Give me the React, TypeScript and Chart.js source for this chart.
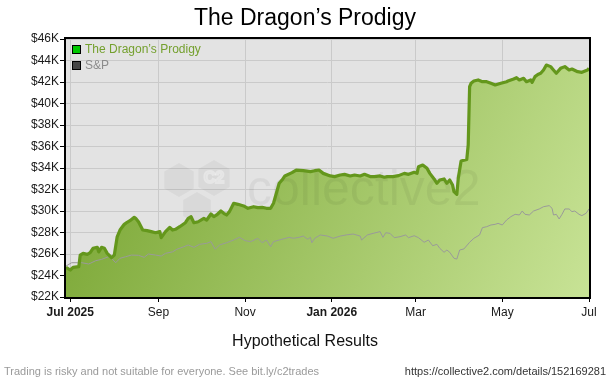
import { useEffect, useRef } from "react";
import { Chart, registerables } from "chart.js";

Chart.register(...registerables);

// Equity curve of the strategy (USD), sampled by date
const prodigyDates = [
  "2025-06-28", "2025-07-01", "2025-07-03", "2025-07-07", "2025-07-08", "2025-07-10", "2025-07-13", "2025-07-15",
  "2025-07-17", "2025-07-20", "2025-07-21", "2025-07-23", "2025-07-25", "2025-07-27", "2025-07-30", "2025-08-01",
  "2025-08-03", "2025-08-05", "2025-08-08", "2025-08-10", "2025-08-12", "2025-08-15", "2025-08-16", "2025-08-18",
  "2025-08-21", "2025-08-24", "2025-08-27", "2025-08-30", "2025-09-02", "2025-09-03", "2025-09-06", "2025-09-09",
  "2025-09-11", "2025-09-13", "2025-09-16", "2025-09-20", "2025-09-22", "2025-09-24", "2025-09-26", "2025-09-29",
  "2025-10-03", "2025-10-05", "2025-10-08", "2025-10-10", "2025-10-12", "2025-10-15", "2025-10-17", "2025-10-19",
  "2025-10-21", "2025-10-24", "2025-10-27", "2025-10-31", "2025-11-03", "2025-11-07", "2025-11-10", "2025-11-13",
  "2025-11-16", "2025-11-19", "2025-11-21", "2025-11-23", "2025-11-25", "2025-11-27", "2025-11-29", "2025-12-04",
  "2025-12-07", "2025-12-12", "2025-12-17", "2025-12-20", "2025-12-23", "2025-12-26", "2025-12-31", "2026-01-03",
  "2026-01-07", "2026-01-10", "2026-01-14", "2026-01-17", "2026-01-21", "2026-01-24", "2026-01-28", "2026-01-31",
  "2026-02-04", "2026-02-07", "2026-02-09", "2026-02-13", "2026-02-17", "2026-02-21", "2026-02-24", "2026-02-28",
  "2026-03-02", "2026-03-03", "2026-03-06", "2026-03-09", "2026-03-11", "2026-03-14", "2026-03-16", "2026-03-18",
  "2026-03-21", "2026-03-23", "2026-03-25", "2026-03-27", "2026-03-28", "2026-03-30", "2026-03-31", "2026-04-02",
  "2026-04-06", "2026-04-07", "2026-04-08", "2026-04-09", "2026-04-11", "2026-04-14", "2026-04-17", "2026-04-20",
  "2026-04-23", "2026-04-26", "2026-04-30", "2026-05-04", "2026-05-05", "2026-05-09", "2026-05-11", "2026-05-13",
  "2026-05-16", "2026-05-18", "2026-05-21", "2026-05-22", "2026-05-24", "2026-05-26", "2026-05-28", "2026-05-30",
  "2026-06-01", "2026-06-04", "2026-06-06", "2026-06-08", "2026-06-11", "2026-06-14", "2026-06-17", "2026-06-19",
  "2026-06-23", "2026-06-26", "2026-06-30", "2026-07-01",
];
const prodigyValues = [
  24760, 24510, 24760, 24820, 25900, 26060, 25970, 26120,
  26530, 26620, 26200, 26620, 26530, 26060, 25660, 25900,
  27600, 28230, 28760, 28950, 29100, 29410, 29320, 29000,
  28230, 28170, 28080, 27980, 28080, 27520, 28080, 28480,
  28230, 28300, 28540, 28910, 29320, 29470, 28910, 29000,
  29320, 29160, 29720, 29470, 29630, 30000, 29790, 29630,
  29940, 30720, 30620, 30470, 30250, 30400, 30310, 30340,
  30250, 30250, 30720, 31650, 32580, 32880, 33260, 33570,
  33810, 33750, 33660, 33750, 33810, 33500, 33260, 33200,
  33350, 33410, 33260, 33350, 33260, 33410, 33200, 33200,
  33260, 33140, 33200, 33200, 33290, 33500, 33410, 33600,
  33500, 34120, 34280, 33970, 33500, 32980, 32580, 32880,
  32980, 32580, 32880, 32420, 31800, 31550, 33040, 34650,
  34800, 36140, 41560, 41880, 42090, 42190, 42030, 42030,
  41880, 41720, 41880, 42030, 42090, 42280, 42400, 42190,
  42340, 42030, 42190, 41970, 42500, 42700, 42810, 43120,
  43580, 43430, 43120, 42810, 43270, 43430, 43120, 43210,
  42960, 42900, 43120, 43270,
];

// Benchmark (S&P) scaled to the same starting capital
const spDates = [
  "2025-06-28", "2025-07-02", "2025-07-06", "2025-07-09", "2025-07-14", "2025-07-19", "2025-07-23", "2025-07-28",
  "2025-07-30", "2025-08-02", "2025-08-05", "2025-08-09", "2025-08-13", "2025-08-18", "2025-08-22", "2025-08-25",
  "2025-08-30", "2025-09-03", "2025-09-06", "2025-09-11", "2025-09-14", "2025-09-19", "2025-09-22", "2025-09-26",
  "2025-09-30", "2025-10-05", "2025-10-08", "2025-10-11", "2025-10-14", "2025-10-19", "2025-10-24", "2025-10-28",
  "2025-11-01", "2025-11-05", "2025-11-10", "2025-11-13", "2025-11-16", "2025-11-19", "2025-11-21", "2025-11-25",
  "2025-11-27", "2025-12-02", "2025-12-05", "2025-12-09", "2025-12-12", "2025-12-15", "2025-12-17", "2025-12-18",
  "2025-12-20", "2025-12-24", "2025-12-29", "2026-01-02", "2026-01-07", "2026-01-11", "2026-01-16", "2026-01-21",
  "2026-01-22", "2026-01-26", "2026-01-30", "2026-02-04", "2026-02-06", "2026-02-08", "2026-02-11", "2026-02-14",
  "2026-02-18", "2026-02-22", "2026-02-24", "2026-02-28", "2026-03-03", "2026-03-07", "2026-03-10", "2026-03-13",
  "2026-03-16", "2026-03-18", "2026-03-21", "2026-03-23", "2026-03-25", "2026-03-28", "2026-03-30", "2026-04-01",
  "2026-04-04", "2026-04-08", "2026-04-11", "2026-04-15", "2026-04-17", "2026-04-20", "2026-04-23", "2026-04-26",
  "2026-04-28", "2026-05-01", "2026-05-04", "2026-05-07", "2026-05-10", "2026-05-13", "2026-05-15", "2026-05-17",
  "2026-05-20", "2026-05-23", "2026-05-27", "2026-05-30", "2026-06-03", "2026-06-05", "2026-06-06", "2026-06-08",
  "2026-06-10", "2026-06-12", "2026-06-14", "2026-06-17", "2026-06-19", "2026-06-21", "2026-06-24", "2026-06-26",
  "2026-06-29", "2026-07-01",
];
const spValues = [
  24880, 25190, 25190, 25190, 25070, 25380, 25500, 25750,
  25600, 25190, 25600, 25750, 25900, 25880, 25690, 26000,
  25900, 25810, 26060, 26200, 26440, 26680, 26840, 26620,
  26900, 26990, 27150, 26440, 26840, 27050, 27300, 27550,
  27240, 27150, 27460, 27050, 27300, 26680, 27150, 27300,
  27370, 27550, 27460, 27550, 27670, 27370, 27550, 27050,
  27460, 27770, 27670, 27460, 27670, 27770, 27860, 27670,
  27300, 27770, 27920, 28080, 27550, 27980, 27920, 27520,
  27610, 27770, 27520, 27700, 27520, 27090, 27300, 26770,
  26900, 26530, 26160, 26370, 26160, 25600, 25530, 26370,
  26470, 27090, 27460, 27770, 28450, 28540, 28700, 28760,
  28850, 28700, 29160, 29470, 29690, 29630, 30000, 29690,
  29630, 30000, 30190, 30400, 30500, 30250, 29630, 29690,
  29260, 29690, 30190, 30190, 29940, 30000, 29690, 29570,
  29790, 30190,
];

const xTickDates = ["2025-07-01", "2025-09-01", "2025-11-01", "2026-01-01", "2026-03-01", "2026-05-01", "2026-07-01"];
const xTickLabels = ["Jul 2025", "Sep", "Nov", "Jan 2026", "Mar", "May", "Jul"];
const yTickValues = [22000, 24000, 26000, 28000, 30000, 32000, 34000, 36000, 38000, 40000, 42000, 44000, 46000];

const seriesNames = ["The Dragon\u2019s Prodigy", "S&P"];
const titleText = "The Dragon\u2019s Prodigy";
const subtitleText = "Hypothetical Results";
const disclaimerText = "Trading is risky and not suitable for everyone. See bit.ly/c2trades";
const linkText = "https://collective2.com/details/152169281";

const FONT = "'Liberation Sans', Arial, Helvetica, sans-serif";
const DAY_MS = 86400000;
const EPOCH = Date.parse("2025-07-01T00:00:00Z");
const toDay = (d: string) => (Date.parse(d + "T00:00:00Z") - EPOCH) / DAY_MS;

function hexagon(ctx: CanvasRenderingContext2D, cx: number, cy: number, r: number) {
  ctx.beginPath();
  for (let k = 0; k < 6; k++) {
    const a = (Math.PI / 180) * (60 * k - 90);
    const px = cx + r * Math.cos(a);
    const py = cy + r * Math.sin(a);
    if (k === 0) ctx.moveTo(px, py);
    else ctx.lineTo(px, py);
  }
  ctx.closePath();
}

// Plot background, watermark, frame, legend and captions
const decorations = {
  id: "decorations",
  beforeDraw(chart: Chart) {
    const { ctx, chartArea: a } = chart;
    ctx.save();
    ctx.fillStyle = "#ffffff";
    ctx.fillRect(0, 0, chart.width, chart.height);
    ctx.fillStyle = "#e3e3e3";
    ctx.fillRect(a.left, a.top, a.right - a.left, a.bottom - a.top);
    ctx.restore();
  },
  beforeDatasetsDraw(chart: Chart) {
    const { ctx } = chart;
    ctx.save();
    ctx.fillStyle = "rgba(0,0,0,0.045)";
    hexagon(ctx, 179, 180, 17);
    ctx.fill();
    hexagon(ctx, 214, 178, 18);
    ctx.fill();
    hexagon(ctx, 197, 208, 16);
    ctx.fill();
    ctx.strokeStyle = "rgba(255,255,255,0.35)";
    ctx.lineWidth = 2;
    ctx.font = `bold 16px ${FONT}`;
    ctx.textAlign = "center";
    ctx.textBaseline = "middle";
    ctx.strokeText("C2", 214, 179);
    ctx.fillStyle = "rgba(0,0,0,0.05)";
    ctx.font = `50px ${FONT}`;
    ctx.textAlign = "left";
    ctx.textBaseline = "alphabetic";
    ctx.fillText("collective2", 247, 205);
    ctx.restore();
  },
  afterDraw(chart: Chart) {
    const { ctx, chartArea: a } = chart;
    ctx.save();
    // frame
    ctx.strokeStyle = "#000";
    ctx.lineWidth = 2;
    ctx.strokeRect(a.left - 1, a.top - 1, a.right - a.left + 2, a.bottom - a.top + 2);

    // legend
    const colors = ["#00c800", "#444444"];
    const textColors = ["#74a02e", "#8c8c8c"];
    ctx.font = `12px ${FONT}`;
    ctx.textBaseline = "middle";
    ctx.textAlign = "left";
    seriesNames.forEach((name, i) => {
      const y = 45 + i * 16;
      ctx.fillStyle = colors[i];
      ctx.fillRect(72.5, y + 0.5, 8, 8);
      ctx.lineWidth = 1;
      ctx.strokeStyle = "#000";
      ctx.strokeRect(72.5, y + 0.5, 8, 8);
      ctx.fillStyle = textColors[i];
      ctx.fillText(name, 85, y + 5);
    });

    // captions
    ctx.textBaseline = "alphabetic";
    ctx.textAlign = "center";
    ctx.fillStyle = "#000";
    ctx.font = `23px ${FONT}`;
    ctx.fillText(titleText, 305, 25);
    ctx.font = `16px ${FONT}`;
    ctx.fillStyle = "#111";
    ctx.fillText(subtitleText, 305, 346);
    ctx.font = `11px ${FONT}`;
    ctx.textAlign = "left";
    ctx.fillStyle = "#9a9a9a";
    ctx.fillText(disclaimerText, 4, 375);
    ctx.textAlign = "right";
    ctx.fillStyle = "#333";
    ctx.fillText(linkText, 606, 375);
    ctx.restore();
  },
};

export default function App() {
  const canvasRef = useRef<HTMLCanvasElement>(null);

  useEffect(() => {
    if (!canvasRef.current) return;
    Chart.defaults.font.family = FONT;

    const areaFill = (context: any) => {
      const { chart } = context;
      const a = chart.chartArea;
      if (!a) return "#9cc158";
      const g = chart.ctx.createLinearGradient(a.left, a.top, a.right, a.bottom);
      g.addColorStop(0, "#72a02a");
      g.addColorStop(1, "#c8e396");
      return g;
    };

    const chart = new Chart(canvasRef.current, {
      type: "line",
      data: {
        datasets: [
          {
            label: seriesNames[0],
            data: prodigyDates.map((d, i) => ({ x: toDay(d), y: prodigyValues[i] })),
            borderColor: "#64971c",
            borderWidth: 3.2,
            backgroundColor: areaFill,
            fill: "start",
            pointRadius: 0,
            tension: 0,
            borderJoinStyle: "round",
          },
          {
            label: seriesNames[1],
            data: spDates.map((d, i) => ({ x: toDay(d), y: spValues[i] })),
            borderColor: "#9a9a9a",
            borderWidth: 1,
            fill: false,
            pointRadius: 0,
            tension: 0,
          },
        ],
      },
      options: {
        animation: false,
        responsive: false,
        devicePixelRatio: 1,
        layout: { padding: { top: 39, right: 21, bottom: 0, left: 0 } },
        plugins: {
          legend: { display: false },
          title: { display: false },
          tooltip: { enabled: false },
          filler: { drawTime: "beforeDatasetsDraw" },
        },
        scales: {
          x: {
            type: "linear",
            min: toDay(prodigyDates[0]),
            max: toDay(xTickDates[xTickDates.length - 1]),
            afterBuildTicks: (scale: any) => {
              scale.ticks = xTickDates.map((d) => ({ value: toDay(d) }));
            },
            afterFit: (scale: any) => {
              scale.height = 83;
            },
            grid: { color: "#cacaca", tickColor: "#000", tickLength: 5, lineWidth: 1 },
            border: { display: false },
            ticks: {
              autoSkip: false,
              maxRotation: 0,
              padding: 3,
              color: "#1a1a1a",
              font: (c: any) => ({
                size: 12,
                weight: (xTickLabels[c.index] || "").includes(" ") ? "bold" : "normal",
              }),
              callback: (_v: any, i: number) => xTickLabels[i],
            },
          },
          y: {
            type: "linear",
            min: yTickValues[0],
            max: yTickValues[yTickValues.length - 1],
            afterBuildTicks: (scale: any) => {
              scale.ticks = yTickValues.map((v) => ({ value: v }));
            },
            afterFit: (scale: any) => {
              scale.width = 66;
            },
            grid: { color: "#cacaca", tickColor: "#000", tickLength: 6, lineWidth: 1 },
            border: { display: false },
            ticks: {
              padding: 1,
              color: "#1a1a1a",
              font: { size: 12 },
              callback: (v: any) => `$${Math.round(Number(v) / 1000)}K`,
            },
          },
        },
      },
      plugins: [decorations],
    } as any);

    return () => chart.destroy();
  }, []);

  return (
    <div style={{ position: "absolute", left: 0, top: 0, width: 610, height: 380, background: "#fff" }}>
      <canvas ref={canvasRef} width={610} height={380} style={{ display: "block" }} />
    </div>
  );
}
